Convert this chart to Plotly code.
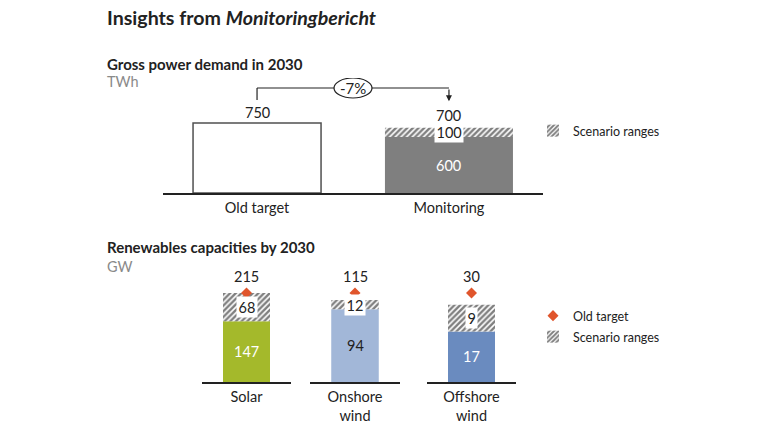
import plotly.graph_objects as go

W, H = 768, 432
FONT = "Lato"
DARK = "#222222"

# ---- data ----
demand_categories = ["Old target", "Monitoring"]
demand_old_target = 750
demand_monitoring_base = 600
demand_monitoring_range = 100

ren_categories = ["Solar", "Onshore<br>wind", "Offshore<br>wind"]
ren_base = [147, 94, 17]
ren_range = [68, 12, 9]
ren_old_target = [215, 115, 30]
ren_colors = ["#a4b92b", "#a2b7d8", "#6a8bbf"]
ren_inner_text_colors = ["white", DARK, "white"]


def fx(px):
    return px / W


def fy(px):
    return 1 - px / H


fig = go.Figure()

HATCH = dict(shape="/", fgcolor="#000000", bgcolor="white", size=4, solidity=0.6)

# ---- top chart ----
fig.add_trace(go.Bar(
    x=[0], y=[demand_old_target], width=0.667,
    marker=dict(color="white", line=dict(color="#505050", width=1.5)),
    showlegend=False, xaxis="x", yaxis="y", hoverinfo="skip"))
fig.add_trace(go.Bar(
    x=[1], y=[demand_monitoring_base], width=0.667,
    marker=dict(color="#7f7f7f", line=dict(width=0)),
    showlegend=False, xaxis="x", yaxis="y", hoverinfo="skip"))
fig.add_trace(go.Bar(
    x=[1], y=[demand_monitoring_range], base=[demand_monitoring_base], width=0.667,
    marker=dict(color="white", pattern=HATCH, line=dict(width=0)),
    name="Scenario ranges", legend="legend", showlegend=True,
    xaxis="x", yaxis="y", hoverinfo="skip"))

demand_total = demand_monitoring_base + demand_monitoring_range
annotations = []
annotations.append(dict(x=0, y=demand_old_target, xref="x", yref="y", text=str(demand_old_target),
                        showarrow=False, yshift=11, font=dict(size=14.5, color=DARK)))
annotations.append(dict(x=1, y=demand_total, xref="x", yref="y", text=str(demand_total),
                        showarrow=False, yshift=12, font=dict(size=14.5, color=DARK)))
annotations.append(dict(x=1, y=demand_monitoring_base + demand_monitoring_range / 2, xref="x", yref="y",
                        text=str(demand_monitoring_range), showarrow=False, bgcolor="white", borderpad=1.5,
                        font=dict(size=14.5, color=DARK)))
annotations.append(dict(x=1, y=demand_monitoring_base / 2, xref="x", yref="y",
                        text=str(demand_monitoring_base), showarrow=False,
                        font=dict(size=14.5, color="white")))

# change connector
y_top = demand_old_target * 1.5
y_start = demand_old_target * 1.33
y_end = demand_old_target * 1.31
change = round((demand_total - demand_old_target) / demand_old_target * 100)
shapes = [
    dict(type="line", xref="x", yref="y", x0=0, x1=0, y0=y_start, y1=y_top, line=dict(color=DARK, width=1.2)),
    dict(type="line", xref="x", yref="y", x0=0, x1=1, y0=y_top, y1=y_top, line=dict(color=DARK, width=1.2)),
    dict(type="circle", xref="x", yref="y", xsizemode="pixel", ysizemode="pixel",
         xanchor=0.5, yanchor=y_top, x0=-19, x1=19, y0=-10, y1=10,
         fillcolor="white", line=dict(color=DARK, width=1.2), layer="above"),
]
annotations.append(dict(x=1, y=y_end, ax=1, ay=y_top, xref="x", yref="y", axref="x", ayref="y",
                        text="", showarrow=True, arrowhead=2, arrowsize=1, arrowwidth=1.2, arrowcolor=DARK))
annotations.append(dict(x=0.5, y=y_top, xref="x", yref="y", text=f"{change}%", showarrow=False,
                        font=dict(size=15, color=DARK)))

# ---- bottom charts ----
ren_domains = [(202, 291), (310, 400), (427, 516)]
for i in range(3):
    ax_id = i + 2
    xa, ya = f"x{ax_id}", f"y{ax_id}"
    fig.add_trace(go.Bar(
        x=[0], y=[ren_base[i]], width=1.056,
        marker=dict(color=ren_colors[i], line=dict(width=0)),
        showlegend=False, xaxis=xa, yaxis=ya, hoverinfo="skip"))
    fig.add_trace(go.Bar(
        x=[0], y=[ren_range[i]], base=[ren_base[i]], width=1.056,
        marker=dict(color="white", pattern=HATCH, line=dict(width=0)),
        name="Scenario ranges", legend="legend3", showlegend=(i == 0),
        xaxis=xa, yaxis=ya, hoverinfo="skip"))
    fig.add_trace(go.Scatter(
        x=[0], y=[ren_old_target[i]], mode="markers",
        marker=dict(symbol="diamond", size=8.5, color="#e0552c"),
        name="Old target", legend="legend2", showlegend=(i == 0), cliponaxis=False,
        xaxis=xa, yaxis=ya, hoverinfo="skip"))
    annotations.append(dict(x=0, y=ren_old_target[i], xref=xa, yref=ya, text=str(ren_old_target[i]),
                            showarrow=False, yshift=17, font=dict(size=14.5, color=DARK)))
    annotations.append(dict(x=0, y=ren_base[i] + ren_range[i] / 2, xref=xa, yref=ya, text=str(ren_range[i]),
                            showarrow=False, bgcolor="white", borderpad=1.5, font=dict(size=14.5, color=DARK)))
    annotations.append(dict(x=0, y=ren_base[i] / 2, xref=xa, yref=ya, text=str(ren_base[i]),
                            showarrow=False, font=dict(size=14.5, color=ren_inner_text_colors[i])))

# titles
annotations += [
    dict(x=fx(105), y=fy(18), xref="paper", yref="paper", xanchor="left", yanchor="middle", showarrow=False,
         text="<b>Insights from <i>Monitoringbericht</i></b>", font=dict(size=19.6, color=DARK)),
    dict(x=fx(105), y=fy(64), xref="paper", yref="paper", xanchor="left", yanchor="middle", showarrow=False,
         text="<b>Gross power demand in 2030</b>", font=dict(size=15, color=DARK)),
    dict(x=fx(105), y=fy(81), xref="paper", yref="paper", xanchor="left", yanchor="middle", showarrow=False,
         text="TWh", font=dict(size=14.5, color="#8a8a8a")),
    dict(x=fx(105), y=fy(247), xref="paper", yref="paper", xanchor="left", yanchor="middle", showarrow=False,
         text="<b>Renewables capacities by 2030</b>", font=dict(size=15, color=DARK)),
    dict(x=fx(105), y=fy(266), xref="paper", yref="paper", xanchor="left", yanchor="middle", showarrow=False,
         text="GW", font=dict(size=14.5, color="#8a8a8a")),
]

axis_common = dict(showgrid=False, zeroline=False, fixedrange=True)
xaxis_common = dict(axis_common, showline=True, linecolor=DARK, linewidth=1.5,
                    ticks="outside", ticklen=1, tickcolor="rgba(0,0,0,0)",
                    tickfont=dict(size=14.5, color=DARK))

# top y axis extends above bars so the change connector is not clipped
top_px_base, top_px_bar, top_px_domain = 193, 123, 78
top_range_max = demand_old_target * (top_px_base - top_px_domain) / (top_px_base - top_px_bar)

layout = dict(
    width=W, height=H,
    margin=dict(l=0, r=0, t=0, b=0),
    paper_bgcolor="white", plot_bgcolor="white",
    font=dict(family=FONT, color=DARK),
    barmode="overlay",
    showlegend=True,
    shapes=shapes,
    annotations=annotations,
    xaxis=dict(xaxis_common, domain=[fx(163), fx(543)], range=[-0.49, 1.49],
               tickvals=[0, 1], ticktext=demand_categories, anchor="y"),
    yaxis=dict(axis_common, domain=[fy(top_px_base), fy(top_px_domain)], range=[0, top_range_max],
               visible=False, anchor="x"),
    legend=dict(x=fx(533), y=fy(131), xanchor="left", yanchor="middle", bgcolor="rgba(0,0,0,0)",
                font=dict(size=12.5, color=DARK), itemwidth=30),
    legend2=dict(x=fx(533), y=fy(316), xanchor="left", yanchor="middle", bgcolor="rgba(0,0,0,0)",
                 font=dict(size=12.5, color=DARK), itemwidth=30),
    legend3=dict(x=fx(533), y=fy(337), xanchor="left", yanchor="middle", bgcolor="rgba(0,0,0,0)",
                 font=dict(size=12.5, color=DARK), itemwidth=30),
)
for i in range(3):
    ax_id = i + 2
    layout[f"xaxis{ax_id}"] = dict(xaxis_common, domain=[fx(ren_domains[i][0]), fx(ren_domains[i][1])],
                                   range=[-1, 1], tickvals=[0], ticktext=[ren_categories[i]],
                                   anchor=f"y{ax_id}")
    layout[f"yaxis{ax_id}"] = dict(axis_common, domain=[fy(382), fy(293)], range=[0, ren_old_target[i]],
                                   visible=False, anchor=f"x{ax_id}")

fig.update_layout(**layout)
fig.write_html("out.html")
